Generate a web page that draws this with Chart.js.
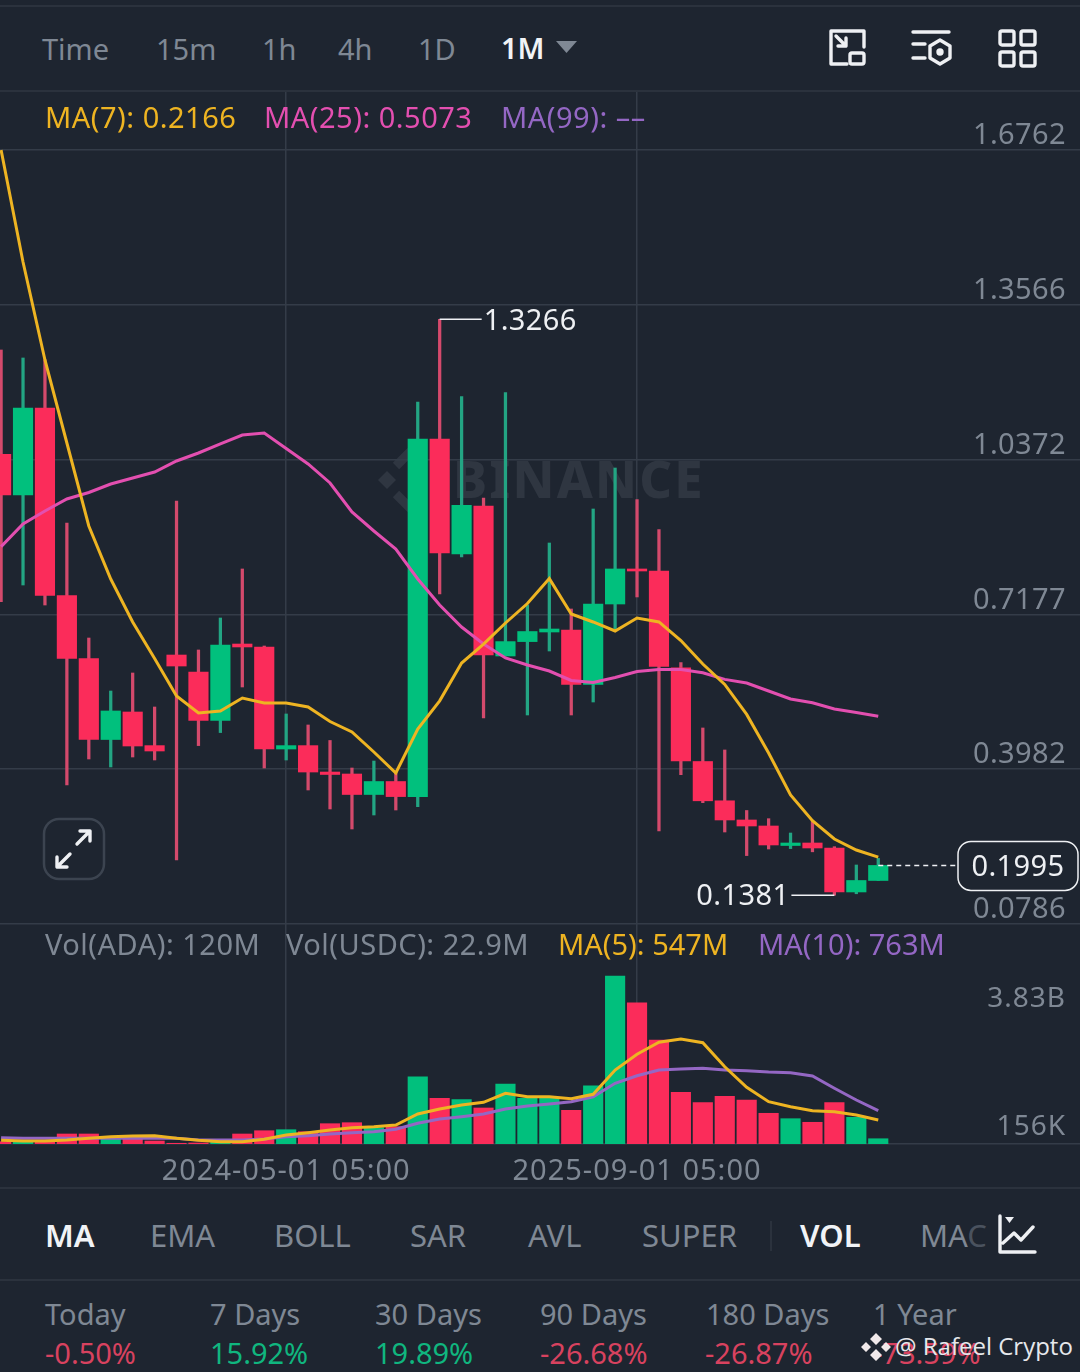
<!DOCTYPE html>
<html>
<head>
<meta charset="utf-8">
<script src="https://cdn.jsdelivr.net/npm/chart.js@4"></script>
<style>
  html, body { margin: 0; padding: 0; background: #1e2530; }
  body { position: relative; width: 1080px; height: 1372px; overflow: hidden; font-family: "Noto Sans", sans-serif; }
  canvas { position: absolute; left: 0; z-index: 1; }
  .t { position: absolute; z-index: 2; white-space: pre; font-size: 29px; line-height: 36px; height: 36px; color: #7f8894; transform: translateY(-18px); }
  .w { letter-spacing: 0.5px; }
  .tab { font-size: 31px; }
  .on { color: #f1f3f6; font-weight: 600; }
  .rule { position: absolute; left: 0; width: 1080px; height: 2px; background: #2b323d; }
  svg { position: absolute; z-index: 2; fill: none; stroke: #eef0f3; stroke-width: 3.4; stroke-linecap: round; stroke-linejoin: round; }
  .red { color: #d8425f; } .green { color: #10b67f; }
</style>
</head>
<body>

<div class="rule" style="top:5px"></div>
<div class="rule" style="top:90px"></div>
<div class="rule" style="top:1187px"></div>
<div class="rule" style="top:1279px"></div>

<!-- interval bar -->
<div class="t" style="left:42px;top:49px">Time</div>
<div class="t" style="left:156px;top:49px">15m</div>
<div class="t" style="left:262px;top:49px">1h</div>
<div class="t" style="left:338px;top:49px">4h</div>
<div class="t" style="left:418px;top:49px">1D</div>
<div class="t on" style="left:501px;top:48px">1M</div>
<svg style="left:550px;top:35px;stroke:none" width="32" height="24"><path d="M6 6H27L16.500 18Z" fill="#7f8894"/></svg>
<svg style="left:825px;top:25px" width="46" height="46">
  <path d="M22 6H39V22M22 39H6V6H22"/><rect x="25" y="28" width="14" height="11" rx="2"/><path d="M11 11L21 21M21 13V21H13"/>
</svg>
<svg style="left:908px;top:25px" width="46" height="46">
  <path d="M5 7H41M5 19H17M5 33H17"/><path d="M32 15L42 21V33L32 39L22 33V21Z"/><circle cx="32" cy="27" r="2" fill="#eef0f3"/>
</svg>
<svg style="left:995px;top:25px" width="46" height="46">
  <rect x="5" y="6" width="14" height="14" rx="2"/><rect x="26" y="6" width="14" height="14" rx="2"/>
  <rect x="5" y="27" width="14" height="14" rx="2"/><rect x="26" y="27" width="14" height="14" rx="2"/>
</svg>

<!-- price legend -->
<div class="t w" style="left:45px;top:117px;color:#eeb422">MA(7): 0.2166</div>
<div class="t w" style="left:264px;top:117px;color:#e34fb0">MA(25): 0.5073</div>
<div class="t w" style="left:501px;top:117px;color:#9467c4">MA(99): ––</div>

<!-- watermark sits under the canvas -->
<svg style="left:372px;top:442px;z-index:0;stroke:#2f3641;stroke-width:9;stroke-linecap:butt" width="76" height="76">
  <path d="M24 24L38 10L52 24M24 52L38 66L52 52"/>
  <path d="M6 38L15 29L24 38L15 47Z" fill="#2f3641" stroke="none"/>
</svg>
<div class="t" style="left:453px;top:478px;z-index:0;font-size:51px;line-height:60px;height:60px;transform:translateY(-30px);font-weight:800;color:#2f3641;letter-spacing:2.2px">BINANCE</div>

<svg style="left:40px;top:815px;stroke:#3c4450;stroke-width:2.500" width="68" height="68"><rect x="4" y="4" width="60" height="60" rx="15"/></svg>
<svg style="left:40px;top:815px" width="68" height="68"><path d="M37 29L50 16M40 16H50V26M30 39L17 52M17 42V52H27"/></svg>

<!-- volume legend -->
<div class="t w" style="left:45px;top:944px">Vol(ADA): 120M</div>
<div class="t w" style="left:286px;top:944px">Vol(USDC): 22.9M</div>
<div class="t" style="left:558px;top:944px;color:#eeb422">MA(5): 547M</div>
<div class="t" style="left:758px;top:944px;color:#9467c4">MA(10): 763M</div>

<!-- indicator tabs -->
<div class="t tab on" style="left:45px;top:1235px">MA</div>
<div class="t tab" style="left:150px;top:1235px">EMA</div>
<div class="t tab" style="left:274px;top:1235px">BOLL</div>
<div class="t tab" style="left:410px;top:1235px">SAR</div>
<div class="t tab" style="left:528px;top:1235px">AVL</div>
<div class="t tab" style="left:642px;top:1235px">SUPER</div>
<div style="position:absolute;left:770px;top:1221px;width:2px;height:30px;background:#2b323d"></div>
<div class="t tab on" style="left:800px;top:1235px">VOL</div>
<div class="t tab" style="left:920px;top:1235px">MA<span style="color:#4a525e">C</span></div>
<svg style="left:994px;top:1212px" width="46" height="46">
  <path d="M6 4V40H41M9 31L20 21L27 28L39 15"/><path d="M11 5H20L15.500 11Z" fill="#eef0f3" stroke="none"/>
</svg>

<!-- period stats -->
<div class="t" style="left:45px;top:1314px">Today</div>
<div class="t" style="left:210px;top:1314px">7 Days</div>
<div class="t" style="left:375px;top:1314px">30 Days</div>
<div class="t" style="left:540px;top:1314px">90 Days</div>
<div class="t" style="left:706px;top:1314px">180 Days</div>
<div class="t" style="left:873px;top:1314px">1 Year</div>
<div class="t red" style="left:45px;top:1353px">-0.50%</div>
<div class="t green" style="left:210px;top:1353px">15.92%</div>
<div class="t green" style="left:375px;top:1353px">19.89%</div>
<div class="t red" style="left:540px;top:1353px">-26.68%</div>
<div class="t red" style="left:705px;top:1353px">-26.87%</div>
<div class="t red" style="left:873px;top:1353px">-73.59%</div>
<svg style="left:860px;top:1331px;stroke:none;z-index:3" width="32" height="32">
  <path d="M16 2L22 8L16 14L10 8ZM6 11L11 16L6 21L1 16ZM26 11L31 16L26 21L21 16ZM16 18L22 24L16 30L10 24Z" fill="#f1e9ea"/>
</svg>
<div class="t" style="left:895px;top:1346px;z-index:3;font-family:'Open Sans';font-size:24px;color:#e6e8ec">@ Rafeel Crypto</div>

<canvas id="priceChart" width="1080" height="834" style="top:92px"></canvas>
<canvas id="volChart" width="1080" height="266" style="top:924px"></canvas>

<script>
// one entry per monthly candle
const opens = [1.0481, 0.9641, 1.1437, 0.7567, 0.6266, 0.4594, 0.5162, 0.4468, 0.6338, 0.5988, 0.4986, 0.6565, 0.6504, 0.4398, 0.4468, 0.3923, 0.3882, 0.3459, 0.3727, 0.3416, 1.0797, 0.8423, 0.9414, 0.6318, 0.6615, 0.6813, 0.6854, 0.5732, 0.7391, 0.8114, 0.8072, 0.6076, 0.4140, 0.3329, 0.2933, 0.2809, 0.2406, 0.2458, 0.2355, 0.1447, 0.1684];
const closes = [0.9641, 1.1437, 0.7567, 0.6266, 0.4594, 0.5183, 0.4460, 0.4357, 0.6111, 0.4986, 0.6545, 0.6504, 0.4398, 0.4468, 0.3923, 0.3872, 0.3459, 0.3727, 0.3416, 1.0797, 0.8444, 0.9426, 0.6338, 0.6615, 0.6823, 0.6875, 0.5732, 0.7391, 0.8114, 0.8072, 0.6101, 0.4150, 0.3329, 0.2933, 0.2809, 0.2417, 0.2458, 0.2355, 0.1447, 0.1684, 0.1995];
const highs = [1.2634, 1.2469, 1.2428, 0.9063, 0.6689, 0.5595, 0.5967, 0.5265, 0.9517, 0.6442, 0.7102, 0.8114, 0.6524, 0.5121, 0.4894, 0.4574, 0.4006, 0.4150, 0.3923, 1.1561, 1.3266, 1.1674, 0.9579, 1.1755, 0.7370, 0.8650, 0.7288, 0.9352, 1.0198, 0.9546, 0.8927, 0.6182, 0.4832, 0.4378, 0.3129, 0.2960, 0.2664, 0.2912, 0.2382, 0.2004, 0.2140];
const lows = [0.7439, 0.7783, 0.7370, 0.3655, 0.4192, 0.4027, 0.4233, 0.4171, 0.2107, 0.4468, 0.4737, 0.5678, 0.4006, 0.4171, 0.3552, 0.3160, 0.2747, 0.3036, 0.3139, 0.3209, 0.7598, 0.8361, 0.5038, 0.6318, 0.5100, 0.6421, 0.5100, 0.5368, 0.6875, 0.7536, 0.2706, 0.3868, 0.3290, 0.2685, 0.2198, 0.2334, 0.2342, 0.2276, 0.1381, 0.1410, 0.1684];
const maSeven = [1.6762, 1.4450, 1.2428, 1.0714, 0.9001, 0.7907, 0.7020, 0.6266, 0.5492, 0.5141, 0.5183, 0.5451, 0.5348, 0.5348, 0.5265, 0.4966, 0.4749, 0.4336, 0.3903, 0.4811, 0.5393, 0.6173, 0.6565, 0.6999, 0.7401, 0.7915, 0.7185, 0.7020, 0.6834, 0.7102, 0.7020, 0.6638, 0.6153, 0.5732, 0.5112, 0.4316, 0.3449, 0.2920, 0.2540, 0.2313, 0.2166];
const maTwentyFive = [0.8576, 0.9042, 0.9311, 0.9558, 0.9693, 0.9868, 0.9992, 1.0116, 1.0343, 1.0508, 1.0694, 1.0879, 1.0921, 1.0601, 1.0281, 0.9889, 0.9290, 0.8898, 0.8526, 0.7907, 0.7370, 0.6916, 0.6565, 0.6277, 0.6132, 0.6008, 0.5812, 0.5771, 0.5874, 0.5996, 0.6037, 0.6037, 0.5971, 0.5835, 0.5760, 0.5595, 0.5430, 0.5354, 0.5224, 0.5152, 0.5073];

// volumes in billions
const volumes = [0.052, 0.052, 0.052, 0.228, 0.228, 0.130, 0.153, 0.068, 0.016, 0.023, 0.052, 0.228, 0.303, 0.326, 0.280, 0.463, 0.486, 0.372, 0.394, 1.534, 1.042, 1.010, 0.821, 1.368, 1.042, 1.042, 0.768, 1.329, 3.830, 3.221, 2.371, 1.179, 0.942, 1.087, 1.003, 0.700, 0.577, 0.495, 0.942, 0.609, 0.120];
const volMaFive = [0.084, 0.068, 0.068, 0.091, 0.130, 0.166, 0.182, 0.189, 0.130, 0.084, 0.052, 0.052, 0.107, 0.205, 0.258, 0.319, 0.372, 0.394, 0.433, 0.684, 0.798, 0.889, 0.951, 1.156, 1.078, 1.078, 1.033, 1.133, 1.687, 2.045, 2.319, 2.394, 2.310, 1.762, 1.293, 0.964, 0.850, 0.759, 0.736, 0.661, 0.547];
const volMaTen = [0.144, 0.130, 0.130, 0.130, 0.130, 0.130, 0.130, 0.130, 0.130, 0.091, 0.091, 0.091, 0.114, 0.166, 0.189, 0.228, 0.258, 0.280, 0.335, 0.472, 0.570, 0.622, 0.684, 0.798, 0.866, 0.912, 0.964, 1.078, 1.384, 1.557, 1.687, 1.710, 1.726, 1.687, 1.671, 1.642, 1.626, 1.550, 1.270, 1.003, 0.763];

const priceTicks = [1.6762, 1.3566, 1.0372, 0.7177, 0.3982, 0.0786];
const volTopTick = 3.83, volTopLabel = '3.83B';
const volBaseTick = 0.000156, volBaseLabel = '156K';
const dateTicks = [13, 29];
const dateLabels = ['2024-05-01 05:00', '2025-09-01 05:00'];

const UP = '#01c07d', DOWN = '#fb2c5a', UP_WICK = '#23a583', DOWN_WICK = '#d44a6c';
const GRID = '#343c48', TICK = '#7f8894', FONT = '"Noto Sans"';

const isUp = closes.map((c, i) => c >= opens[i]);
const bars = (a, b) => a.map((v, i) => ({ x: i, y: [v, b[i]] }));
const line = (a) => a.map((v, i) => ({ x: i, y: v }));

function maLine(data, color, order, yAxisID) {
  return { type: 'line', data: line(data), borderColor: color, borderWidth: 3, pointRadius: 0, tension: 0, order: order, yAxisID: yAxisID };
}

function xScale(showLabels) {
  return {
    type: 'linear', min: -0.05, max: 49.2, offset: false,
    border: { display: false },
    grid: { offset: false, color: GRID, lineWidth: 1.5, drawTicks: false },
    afterBuildTicks: (s) => { s.ticks = dateTicks.map((v) => ({ value: v })); },
    afterFit: (s) => { s.height = showLabels ? 46 : 2; s.paddingLeft = s.paddingRight = 0; },
    ticks: {
      display: showLabels, autoSkip: false, maxRotation: 0, padding: 10, color: TICK, font: { family: FONT, size: 29 },
      callback: (v) => dateLabels[dateTicks.indexOf(v)]
    }
  };
}

function yScale(min, max, values, fmt, offset, showGrid, size) {
  return {
    type: 'linear', position: 'right', min: min, max: max,
    border: { display: false },
    grid: { display: showGrid, color: GRID, lineWidth: 1.5, drawTicks: false },
    afterBuildTicks: (s) => { s.ticks = values.map((v) => ({ value: v })); },
    // mirrored labels must not eat into the plot height
    afterFit: (s) => { s.width = 0; s.paddingTop = s.paddingBottom = 0; },
    ticks: { mirror: true, autoSkip: false, padding: -14, labelOffset: offset, color: TICK, font: { family: FONT, size: size }, callback: fmt }
  };
}

// canvas text spacing, the labels in the picture run a bit wider than Noto
const spacing = (px) => ({ id: 'spacing', beforeDraw(chart) { chart.ctx.letterSpacing = px; } });

// high / low callouts and the last price pill
const callouts = {
  id: 'callouts',
  afterDatasetsDraw(chart) {
    const { ctx, scales: { x, y } } = chart;
    const hi = highs.indexOf(Math.max(...highs)), lo = lows.indexOf(Math.min(...lows)), last = closes.length - 1;
    ctx.save();
    ctx.font = '29px ' + FONT;
    ctx.textBaseline = 'middle';
    ctx.strokeStyle = ctx.fillStyle = '#eef0f3';
    ctx.lineWidth = 1.5;

    const hx = x.getPixelForValue(hi), hy = y.getPixelForValue(highs[hi]);
    ctx.beginPath(); ctx.moveTo(hx, hy); ctx.lineTo(hx + 42, hy); ctx.stroke();
    ctx.fillText(highs[hi].toFixed(4), hx + 44, hy + 2);

    const lx = x.getPixelForValue(lo), ly = y.getPixelForValue(lows[lo]);
    ctx.beginPath(); ctx.moveTo(lx, ly); ctx.lineTo(lx - 43, ly); ctx.stroke();
    ctx.textAlign = 'right';
    ctx.fillText(lows[lo].toFixed(4), lx - 45, ly + 2);

    const px = x.getPixelForValue(last), py = y.getPixelForValue(closes[last]);
    ctx.setLineDash([5, 4]);
    ctx.beginPath(); ctx.moveTo(px, py); ctx.lineTo(958, py); ctx.stroke();
    ctx.setLineDash([]);
    ctx.beginPath(); ctx.roundRect(958, py - 24, 120, 49, 13);
    ctx.fillStyle = '#1e2530'; ctx.fill(); ctx.stroke();
    ctx.fillStyle = '#eef0f3';
    ctx.textAlign = 'center';
    ctx.fillText(closes[last].toFixed(4), 1018, py + 2);
    ctx.restore();
  }
};

const base = { responsive: false, animation: false, events: [], layout: { autoPadding: false }, plugins: { legend: { display: false }, tooltip: { enabled: false } } };

new Chart(document.getElementById('priceChart'), {
  type: 'bar',
  plugins: [callouts, spacing('0.4px')],
  data: {
    datasets: [
      { data: bars(lows, highs), backgroundColor: isUp.map((u) => u ? UP_WICK : DOWN_WICK), barThickness: 2.6, grouped: false, order: 3 },
      { data: bars(opens, closes), backgroundColor: isUp.map((u) => u ? UP : DOWN), barThickness: 19.5, grouped: false, order: 2 },
      maLine(maTwentyFive, '#e34fb0', 1, 'y'),
      maLine(maSeven, '#eeb422', 0, 'y')
    ]
  },
  options: {
    ...base,
    scales: {
      x: xScale(false),
      y: yScale(0.0786, 1.7959, priceTicks, (v) => v.toFixed(4), -14, true, 29)
    }
  }
});

new Chart(document.getElementById('volChart'), {
  type: 'bar',
  plugins: [spacing('1px')],
  data: {
    datasets: [
      { data: line(volumes), backgroundColor: isUp.map((u) => u ? UP : DOWN), barThickness: 19.5, order: 2 },
      maLine(volMaTen, '#9467c4', 1, 'y'),
      maLine(volMaFive, '#eeb422', 0, 'y')
    ]
  },
  options: {
    ...base,
    scales: {
      x: xScale(true),
      y: yScale(0, 5.016, [volTopTick], () => volTopLabel, 23, false, 28),
      yBase: yScale(0, 5.016, [volBaseTick], () => volBaseLabel, -17, true, 28)
    }
  }
});
</script>
</body>
</html>
